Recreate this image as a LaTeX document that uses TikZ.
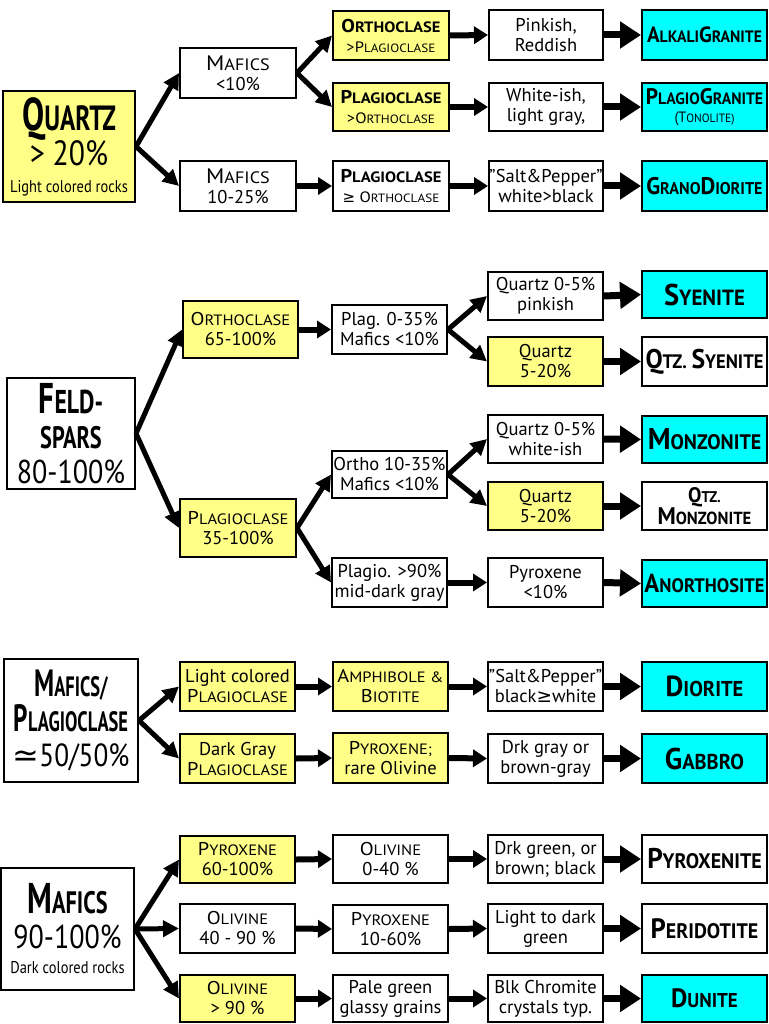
\documentclass[tikz,border=0pt]{standalone}
\usepackage{fontspec}
\setmainfont{PT Sans}
\newfontfamily\hf[FakeStretch=0.72]{PT Sans}
\newfontfamily\hg[FakeStretch=0.66]{PT Sans}
\newfontfamily\cf[FakeStretch=0.85]{PT Sans}
\newfontfamily\rf[FakeStretch=0.95]{PT Sans}
\newfontfamily\wf[FakeStretch=1.1]{PT Sans}
\newfontfamily\dv{DejaVu Sans}
\usetikzlibrary{arrows.meta}
\definecolor{ylw}{RGB}{255,255,136}
\definecolor{cyn}{RGB}{0,255,255}
\newcommand\sk[4]{{\fontsize{#1}{#1}\selectfont #3}{\fontsize{#2}{#2}\selectfont #4}}
\newcommand\sa[2]{{\wf\sk{18.5}{15}{#1}{#2}}}
\newcommand\sm[2]{{\wf\sk{21}{16.5}{#1}{#2}}}
\newcommand\sbb[2]{{\wf\sk{15}{12}{#1}{#2}}}
\newcommand\bx[7]{\node[#2, minimum width={(#5-#3)*1pt}, minimum height={(#6-#4)*1pt}] (#1) at ({(#3+#5)/2},{(#4+#6)/2}) {#7};}
\tikzset{
  bxs/.style={draw=black, line width=2pt, inner sep=0pt, align=center, font=\fontsize{18.5}{20}\selectfont},
  yel/.style={bxs, fill=ylw},
  wht/.style={bxs, fill=white},
  cyb/.style={bxs, fill=cyn},
  res/.style={font=\rf\bfseries\fontsize{20}{22}\selectfont},
  hd/.style={font=\fontsize{33}{35}\selectfont},
  arrF/.style={-{Triangle[length=16pt,width=16pt]}, line width=5pt},
  arrS/.style={-{Triangle[length=14pt,width=17pt]}, line width=6pt},
  arrB/.style={-{Triangle[length=21pt,width=26pt]}, line width=7pt},
}
\begin{document}
\begin{tikzpicture}[x=1pt,y=-1pt]
\useasboundingbox (0,0) rectangle (768,1024);
% ---------- Section 1 : Quartz ----------
\bx{q}{yel,hd}{3}{91}{135}{202}{{\hf\bfseries\sk{46}{35}{Q}{UARTZ}}\\{\cf\fontsize{35}{35}\selectfont > 20\%}\\[-8pt]{\cf\fontsize{17}{17}\selectfont Light colored rocks}}
\bx{m1}{wht}{180}{48}{296}{98}{\sm{M}{AFICS}\\<10\%}
\bx{m2}{wht}{180}{161}{296}{211}{\sm{M}{AFICS}\\10-25\%}
\bx{o1}{yel}{333}{11}{449}{60}{{\bfseries\sa{O}{RTHOCLASE}}\\\sbb{>P}{LAGIOCLASE}}
\bx{p1}{yel}{333}{83}{449}{131}{{\bfseries\sa{P}{LAGIOCLASE}}\\\sbb{>O}{RTHOCLASE}}
\bx{p2}{wht}{333}{161}{449}{211}{{\bfseries\sa{P}{LAGIOCLASE}}\\\sbb{{\dv ≥} O}{RTHOCLASE}}
\bx{c1}{wht}{489}{10}{603}{60}{Pinkish,\\Reddish}
\bx{c2}{wht}{489}{83}{603}{131}{White-ish,\\light gray,}
\bx{c3}{wht}{489}{161}{603}{211}{"Salt\&Pepper"\\white>black}
\bx{r1}{cyb,res}{642}{10}{767}{60}{\sk{22}{16.5}{A}{LKALI}\sk{22}{16.5}{G}{RANITE}}
\bx{r2}{cyb,res}{642}{83}{767}{131}{\sk{22.5}{16.5}{P}{LAGIO}\sk{22.5}{16.5}{G}{RANITE}\\[-4pt]{\mdseries\sk{15}{12}{(T}{ONOLITE)}}}
\bx{r3}{cyb,res}{642}{161}{767}{211}{\sk{24}{17}{G}{RANO}\sk{24}{17}{D}{IORITE}}
\draw[arrF] (q.east) -- (m1.west);
\draw[arrF] (q.east) -- (m2.west);
\draw[arrF] (m1.east) -- (o1.west);
\draw[arrF] (m1.east) -- (p1.west);
\draw[arrS] (m2.east) -- (p2.west);
\draw[arrS] (o1.east) -- (c1.west);
\draw[arrS] (p1.east) -- (c2.west);
\draw[arrS] (p2.east) -- (c3.west);
\draw[arrB] (c1.east) -- (r1.west);
\draw[arrB] (c2.east) -- (r2.west);
\draw[arrB] (c3.east) -- (r3.west);
% ---------- Section 2 : Feldspars ----------
\bx{f}{wht,hd}{7}{378}{135}{489}{{\hf\bfseries\sk{43}{33}{F}{ELD-}}\\{\hf\bfseries\fontsize{31}{31}\selectfont SPARS}\\{\cf\fontsize{33}{33}\selectfont 80-100\%}}
\bx{fo}{yel}{183}{301}{298}{358}{\sa{O}{RTHOCLASE}\\65-100\%}
\bx{fp}{yel}{180}{499}{296}{557}{\sa{P}{LAGIOCLASE}\\35-100\%}
\bx{g1}{wht}{332}{305}{447}{354}{Plag. 0-35\%\\Mafics <10\%}
\bx{g2}{wht}{332}{451}{447}{498}{Ortho 10-35\%\\Mafics <10\%}
\bx{g3}{wht}{332}{558}{447}{607}{Plagio. >90\%\\mid-dark gray}
\bx{h1}{wht}{488}{272}{603}{320}{Quartz 0-5\%\\pinkish}
\bx{h2}{yel}{488}{337}{603}{386}{Quartz\\5-20\%}
\bx{h3}{wht}{488}{415}{603}{463}{Quartz 0-5\%\\white-ish}
\bx{h4}{yel}{488}{482}{603}{530}{Quartz\\5-20\%}
\bx{h5}{wht}{488}{558}{603}{607}{Pyroxene\\<10\%}
\bx{s1}{cyb,res}{642}{271}{767}{318}{\sk{30}{22}{S}{YENITE}}
\bx{s2}{wht,res}{642}{337}{767}{386}{\sk{27}{19.5}{Q}{TZ. }\sk{27}{19.5}{S}{YENITE}}
\bx{s3}{cyb,res}{642}{416}{767}{463}{\sk{30}{21}{M}{ONZONITE}}
\bx{s4}{wht,res}{642}{482}{767}{530}{\sk{21}{15.5}{Q}{TZ.}\\\sk{24}{17.5}{M}{ONZONITE}}
\bx{s5}{cyb,res}{642}{560}{767}{607}{\sk{26}{19.5}{A}{NORTHOSITE}}
\draw[arrF] (f.east) -- (fo.west);
\draw[arrF] (f.east) -- (fp.west);
\draw[arrS] (fo.east) -- (g1.west);
\draw[arrF] (g1.east) -- (h1.west);
\draw[arrF] (g1.east) -- (h2.west);
\draw[arrF] (fp.east) -- (g2.west);
\draw[arrF] (fp.east) -- (g3.west);
\draw[arrF] (g2.east) -- (h3.west);
\draw[arrF] (g2.east) -- (h4.west);
\draw[arrS] (g3.east) -- (h5.west);
\draw[arrB] (h1.east) -- (s1.west);
\draw[arrB] (h2.east) -- (s2.west);
\draw[arrB] (h3.east) -- (s3.west);
\draw[arrB] (h4.east) -- (s4.west);
\draw[arrB] (h5.east) -- (s5.west);
% ---------- Section 3 : Mafics / Plagioclase ----------
\bx{mp}{wht,hd}{4}{659}{138}{782}{{\hg\bfseries\sk{38}{28}{M}{AFICS/}}\\{\hg\bfseries\sk{38}{28}{P}{LAGIOCLASE}}\\{\cf\fontsize{32}{32}\selectfont{\dv ≃}50/50\%}}
\bx{l1}{yel}{180}{662}{295}{711}{Light colored\\\sa{P}{LAGIOCLASE}}
\bx{l2}{yel}{180}{734}{295}{783}{Dark Gray\\\sa{P}{LAGIOCLASE}}
\bx{a1}{yel}{333}{662}{448}{711}{\sa{A}{MPHIBOLE \&}\\\sa{B}{IOTITE}}
\bx{a2}{yel}{333}{733}{448}{783}{\sa{P}{YROXENE;}\\rare Olivine}
\bx{d1}{wht}{488}{662}{603}{711}{"Salt\&Pepper"\\black{\dv ≥}white}
\bx{d2}{wht}{488}{734}{603}{783}{Drk gray or\\brown-gray}
\bx{e1}{cyb,res}{642}{662}{767}{711}{\sk{29}{21.5}{D}{IORITE}}
\bx{e2}{cyb,res}{642}{734}{767}{783}{\sk{30}{21.5}{G}{ABBRO}}
\draw[arrF] (mp.east) -- (l1.west);
\draw[arrF] (mp.east) -- (l2.west);
\draw[arrS] (l1.east) -- (a1.west);
\draw[arrS] (l2.east) -- (a2.west);
\draw[arrS] (a1.east) -- (d1.west);
\draw[arrS] (a2.east) -- (d2.west);
\draw[arrB] (d1.east) -- (e1.west);
\draw[arrB] (d2.east) -- (e2.west);
% ---------- Section 4 : Mafics ----------
\bx{mf}{wht,hd}{1}{868}{134}{990}{{\hf\bfseries\sk{43}{31}{M}{AFICS}}\\{\cf\fontsize{33}{33}\selectfont 90-100\%}\\[-10pt]{\cf\fontsize{17}{17}\selectfont Dark colored rocks}}
\bx{n1}{yel}{180}{836}{295}{883}{\sa{P}{YROXENE}\\60-100\%}
\bx{n2}{wht}{180}{904}{295}{953}{\sa{O}{LIVINE}\\40 - 90 \%}
\bx{n3}{yel}{180}{975}{295}{1022}{\sa{O}{LIVINE}\\> 90 \%}
\bx{k1}{wht}{333}{835}{448}{883}{\sa{O}{LIVINE}\\0-40 \%}
\bx{k2}{wht}{333}{905}{448}{953}{\sa{P}{YROXENE}\\10-60\%}
\bx{k3}{wht}{333}{975}{448}{1022}{Pale green\\glassy grains}
\bx{t1}{wht}{488}{835}{603}{883}{Drk green, or\\brown; black}
\bx{t2}{wht}{488}{904}{603}{953}{Light to dark\\green}
\bx{t3}{wht}{488}{975}{603}{1022}{Blk Chromite\\crystals typ.}
\bx{u1}{wht,res}{642}{835}{767}{883}{\sk{28.5}{21}{P}{YROXENITE}}
\bx{u2}{wht,res}{642}{904}{767}{953}{\sk{28}{21}{P}{ERIDOTITE}}
\bx{u3}{cyb,res}{642}{975}{767}{1022}{\sk{26.5}{20}{D}{UNITE}}
\draw[arrF] (mf.east) -- (n1.west);
\draw[arrF] (mf.east) -- (n2.west);
\draw[arrF] (mf.east) -- (n3.west);
\draw[arrS] (n1.east) -- (k1.west);
\draw[arrS] (n2.east) -- (k2.west);
\draw[arrS] (n3.east) -- (k3.west);
\draw[arrS] (k1.east) -- (t1.west);
\draw[arrS] (k2.east) -- (t2.west);
\draw[arrS] (k3.east) -- (t3.west);
\draw[arrB] (t1.east) -- (u1.west);
\draw[arrB] (t2.east) -- (u2.west);
\draw[arrB] (t3.east) -- (u3.west);
\end{tikzpicture}
\end{document}
